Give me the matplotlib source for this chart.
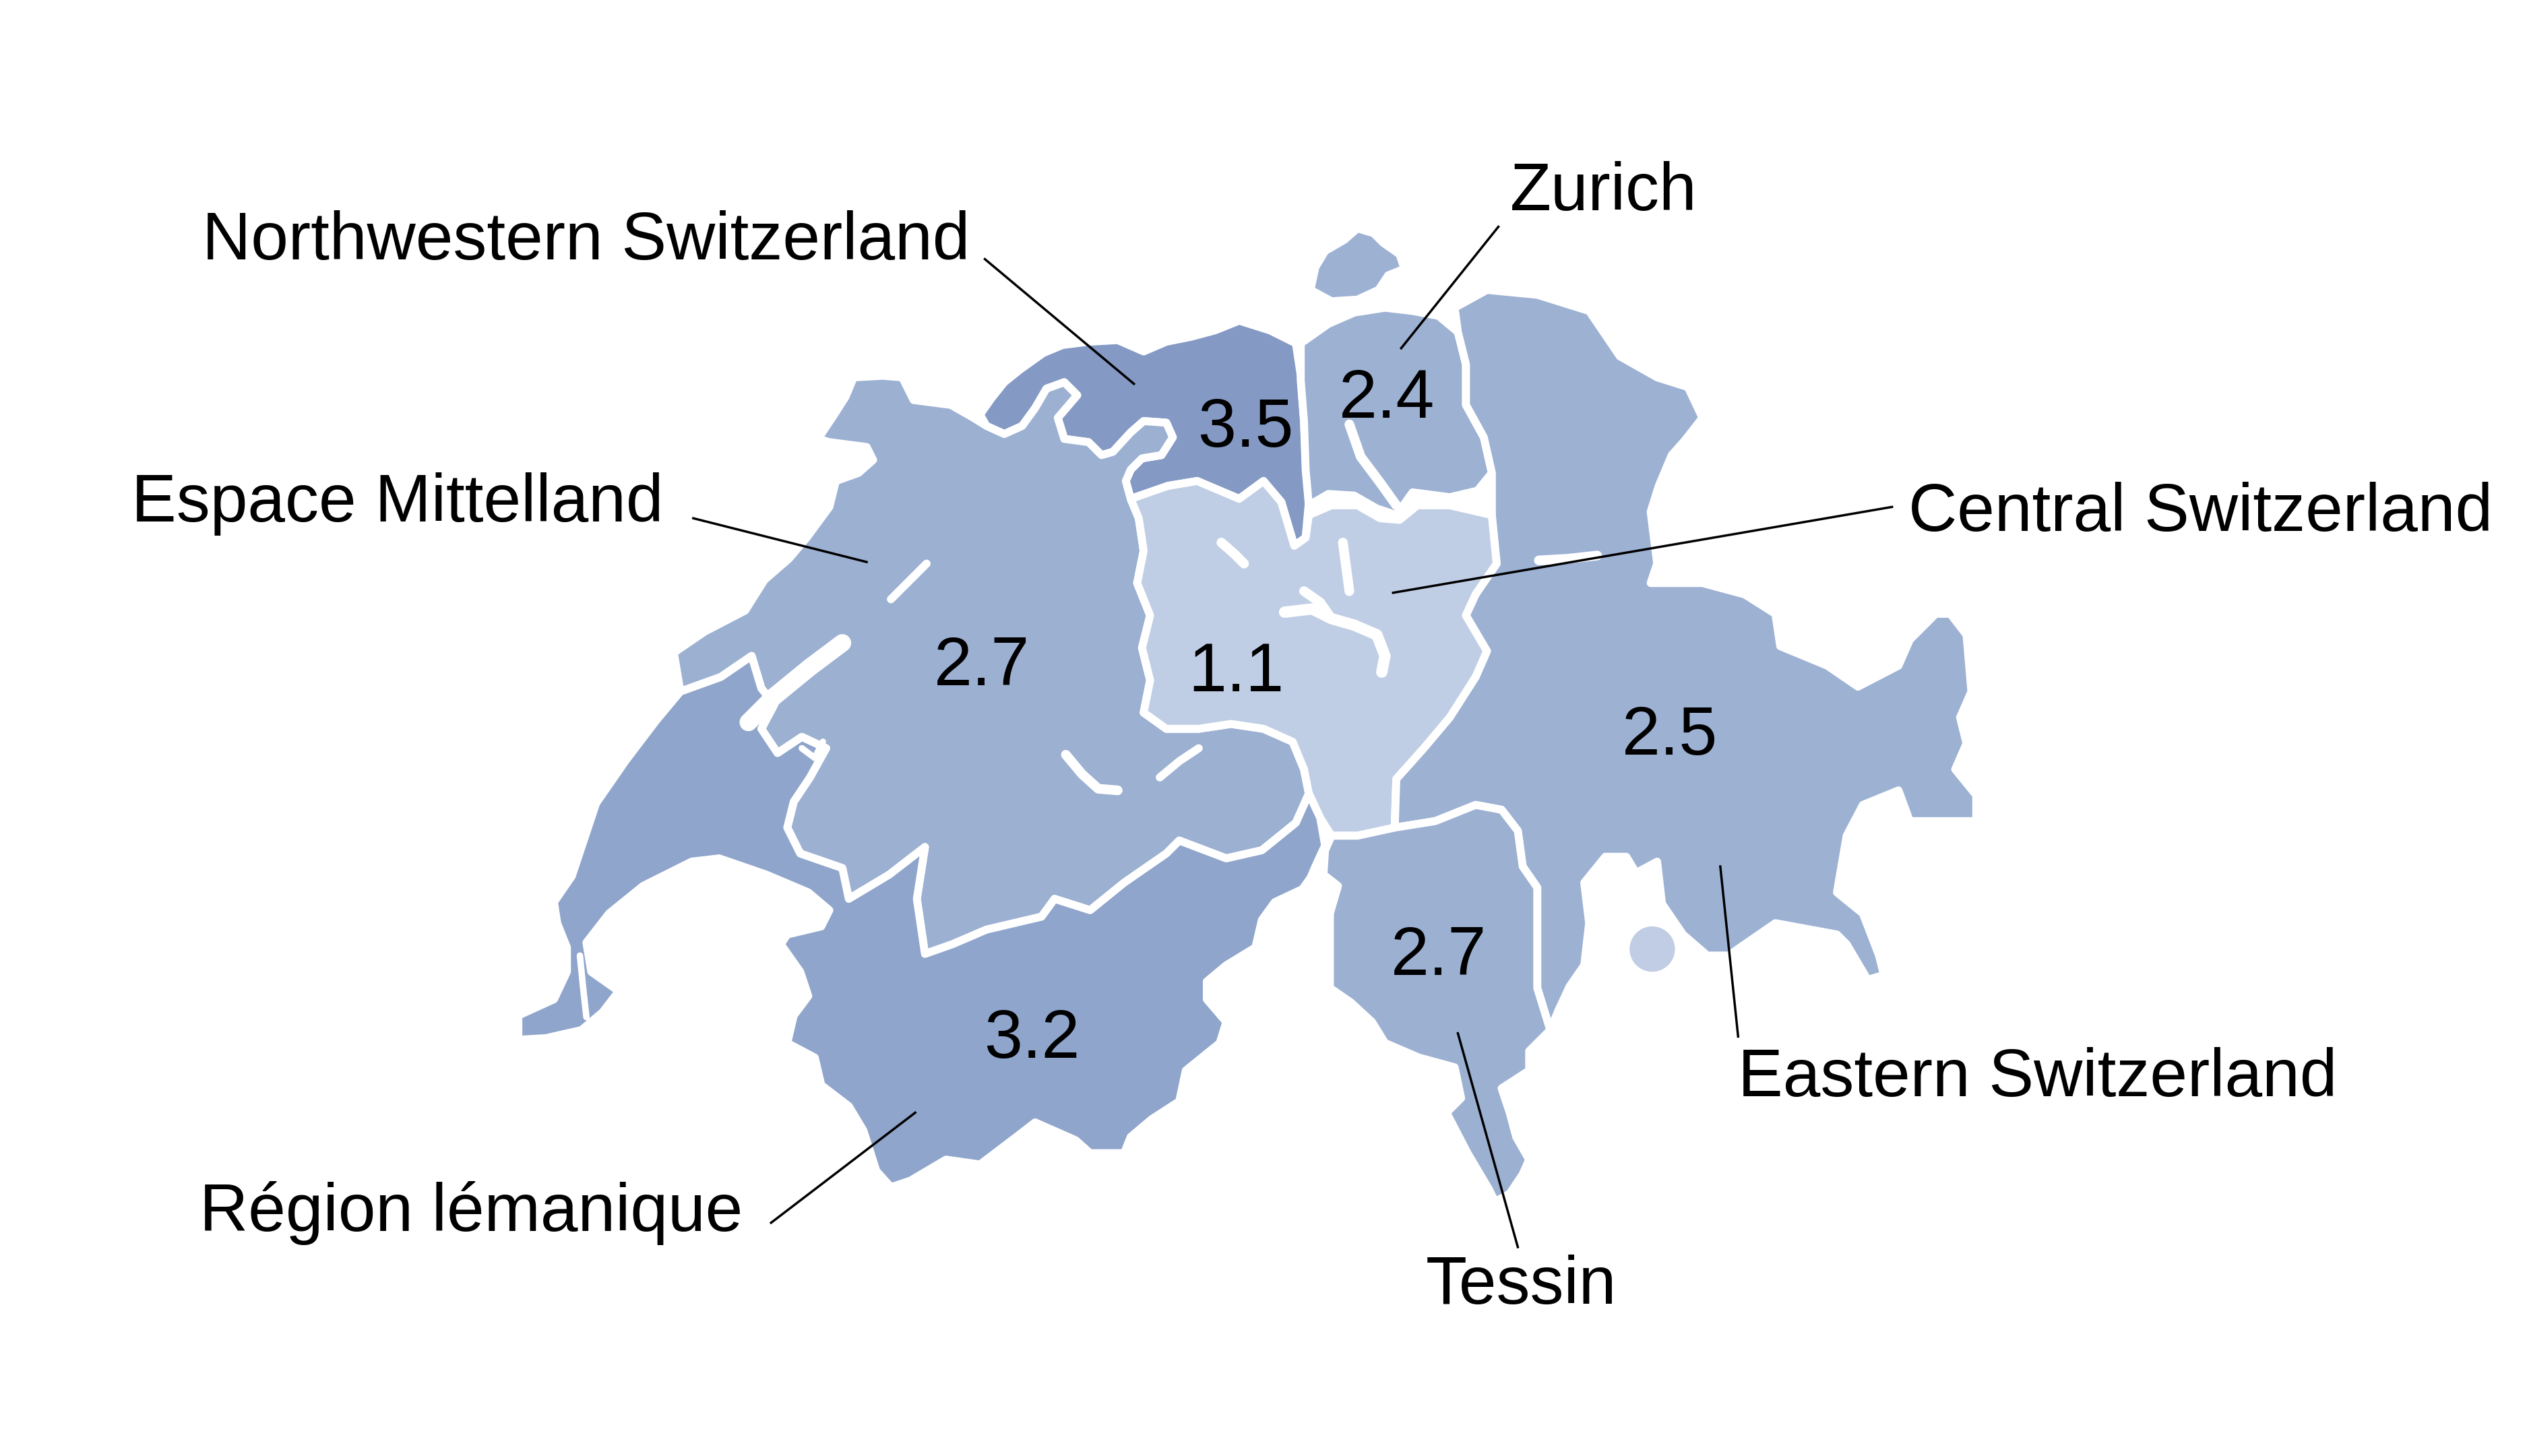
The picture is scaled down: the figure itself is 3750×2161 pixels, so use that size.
import matplotlib
matplotlib.use("Agg")
import matplotlib.pyplot as plt
from matplotlib.patches import Polygon, Circle

# ---------------- data ----------------
regions = ["Northwestern Switzerland", "Zurich", "Espace Mittelland",
           "Central Switzerland", "Eastern Switzerland", "Tessin", "Région lémanique"]
values = [3.5, 2.4, 2.7, 1.1, 2.5, 2.7, 3.2]

# ---------------- style ----------------
fill_colors = ["#8499C4", "#9DB1D3", "#9CB0D2", "#C0CEE5", "#9DB1D3", "#9CB0D2", "#8FA5CB"]
# label anchor (left x, baseline y), leader line (from, to), value position (center x, baseline y)
label_pos = [(125, 160), (932, 130), (81, 322), (1178, 328), (1073, 677), (880, 805), (123, 760)]
leader = [((608, 160), (700, 237)), ((925, 140), (865, 215)), ((428, 320), (535, 347)),
          ((1168, 313), (860, 366)), ((1062, 535), (1073, 640)), ((900, 638), (937, 770)),
          ((476, 755), (565, 687))]
value_pos = [(769, 276), (856, 258), (606, 423), (763, 427), (1031, 466), (888, 602), (637, 653)]

# ---------------- geometry (region outlines, image space) ----------------
shapes = {
    "Northwestern Switzerland": [
        (609, 263), (605, 256), (612, 246), (620, 236), (630, 228), (644, 218), (656, 213), (672, 211),
        (690, 210), (706, 217), (720, 211), (735, 208), (750, 204), (765, 198), (784, 204), (800, 212),
        (803, 232), (805, 260), (806, 284), (808, 310), (806, 332), (799, 337), (791, 310), (780, 297),
        (765, 308), (739, 297), (721, 300), (698, 308), (695, 297), (698, 290), (705, 283), (717, 281),
        (724, 270), (720, 261), (706, 260), (698, 267), (687, 279), (680, 281), (672, 273), (657, 271),
        (653, 258), (665, 244), (657, 236), (646, 240), (639, 252), (631, 263), (620, 268)],
    "Zurich": [
        (803, 212), (820, 200), (836, 193), (855, 190), (872, 192), (888, 195), (900, 205), (905, 225),
        (905, 250), (916, 270), (921, 292), (912, 303), (895, 307), (872, 304), (862, 318), (850, 314),
        (836, 306), (820, 305), (808, 312), (806, 290), (805, 260), (803, 235)],
    "Schaffhausen": [
        (809, 179), (812, 165), (818, 155), (830, 148), (838, 141), (848, 144), (854, 150), (864, 157),
        (867, 166), (857, 170), (851, 179), (838, 185), (822, 186)],
    "Espace Mittelland": [
        (505, 271), (515, 256), (522, 245), (527, 233), (545, 232), (557, 233), (564, 247), (587, 250),
        (601, 258), (609, 263), (620, 268), (631, 263), (639, 252), (646, 240), (657, 236), (665, 244),
        (653, 258), (657, 271), (672, 273), (680, 281), (687, 279), (698, 267), (706, 260), (720, 261),
        (724, 270), (717, 281), (705, 283), (698, 290), (695, 297), (698, 308), (703, 320), (706, 340),
        (702, 360), (710, 380), (705, 400), (710, 420), (706, 440), (720, 450), (740, 450), (760, 447),
        (780, 450), (798, 458), (805, 475), (808, 490), (800, 508), (779, 525), (757, 530), (728, 519),
        (720, 527), (694, 545), (673, 562), (651, 555), (643, 566), (609, 574), (588, 583), (571, 589),
        (566, 555), (571, 523), (549, 540), (524, 555), (520, 536), (494, 527), (486, 511), (490, 495),
        (500, 480), (510, 462), (495, 455), (480, 465), (470, 450), (478, 435), (470, 425), (464, 405),
        (445, 418), (420, 427), (416, 403), (435, 390), (460, 377), (472, 358), (487, 345), (498, 332),
        (512, 313), (516, 297), (530, 292), (539, 284), (535, 276), (512, 273)],
    "Central Switzerland": [
        (698, 308), (721, 300), (739, 297), (765, 308), (780, 297), (791, 310), (799, 337), (806, 332),
        (808, 318), (822, 312), (838, 312), (852, 320), (864, 321), (875, 312), (895, 312), (921, 318),
        (924, 348), (911, 367), (905, 380), (918, 402), (911, 418), (895, 443), (879, 462), (862, 481),
        (861, 511), (838, 516), (822, 516), (815, 505), (808, 490), (805, 475), (798, 458), (780, 450),
        (760, 447), (740, 450), (720, 450), (706, 440), (710, 420), (705, 400), (710, 380), (702, 360),
        (706, 340), (703, 320)],
    "Eastern Switzerland": [
        (898, 190), (918, 179), (949, 182), (981, 192), (1000, 220), (1023, 233), (1042, 239), (1051, 258),
        (1040, 272), (1032, 281), (1024, 300), (1019, 316), (1023, 348), (1019, 360), (1051, 360),
        (1077, 367), (1096, 379), (1099, 399), (1128, 411), (1147, 424), (1172, 411), (1179, 395),
        (1195, 379), (1204, 379), (1214, 392), (1217, 427), (1210, 443), (1214, 459), (1207, 475),
        (1220, 491), (1220, 507), (1179, 507), (1172, 488), (1150, 497), (1140, 516), (1134, 551),
        (1150, 564), (1160, 590), (1163, 602), (1153, 605), (1140, 583), (1134, 577), (1096, 570),
        (1067, 590), (1054, 590), (1039, 577), (1026, 558), (1023, 532), (1010, 539), (1004, 529),
        (991, 529), (978, 545), (981, 570), (978, 596), (969, 609), (962, 624), (957, 636), (949, 610),
        (949, 570), (949, 548), (940, 535), (937, 513), (927, 500), (911, 497), (886, 507), (861, 511),
        (862, 481), (879, 462), (895, 443), (911, 418), (918, 402), (905, 380), (911, 367), (924, 348),
        (921, 318), (921, 292), (916, 270), (905, 250), (905, 225), (900, 205)],
    "Tessin": [
        (822, 516), (838, 516), (861, 511), (886, 507), (911, 497), (927, 500), (937, 513), (940, 535),
        (949, 548), (949, 570), (949, 610), (957, 636), (944, 649), (944, 661), (927, 672), (932, 687),
        (936, 702), (944, 716), (940, 725), (932, 737), (923, 742), (919, 734), (906, 712), (893, 687),
        (902, 678), (898, 659), (876, 653), (855, 644), (847, 631), (834, 619), (821, 610), (821, 564),
        (826, 547), (817, 540), (818, 525)],
    "Région lémanique": [
        (420, 427), (445, 418), (464, 405), (470, 425), (478, 435), (470, 450), (480, 465), (495, 455),
        (510, 462), (500, 480), (490, 495), (486, 511), (494, 527), (520, 536), (524, 555), (549, 540),
        (571, 523), (566, 555), (571, 589), (588, 583), (609, 574), (643, 566), (651, 555), (673, 562),
        (694, 545), (720, 527), (728, 519), (757, 530), (779, 525), (800, 508), (808, 490), (815, 505),
        (818, 522), (812, 535), (809, 542), (804, 549), (787, 557), (779, 568), (775, 585), (757, 596),
        (745, 606), (745, 617), (757, 631), (753, 644), (732, 661), (728, 680), (711, 691), (698, 702),
        (694, 712), (673, 712), (664, 704), (639, 693), (630, 700), (605, 719), (584, 716), (562, 729),
        (550, 733), (541, 723), (533, 698), (524, 683), (507, 670), (503, 653), (486, 644), (490, 627),
        (499, 615), (494, 600), (482, 583), (486, 577), (507, 572), (512, 562), (499, 551), (473, 540),
        (444, 530), (427, 532), (397, 547), (376, 564), (362, 582), (365, 600), (382, 612), (372, 625),
        (359, 636), (337, 641), (320, 642), (320, 627), (342, 617), (350, 600), (350, 585), (344, 570),
        (342, 557), (353, 541), (368, 496), (386, 470), (405, 445)],
}
region_shape = {"Northwestern Switzerland": ["Northwestern Switzerland"],
                "Zurich": ["Zurich", "Schaffhausen"],
                "Espace Mittelland": ["Espace Mittelland"],
                "Central Switzerland": ["Central Switzerland"],
                "Eastern Switzerland": ["Eastern Switzerland"],
                "Tessin": ["Tessin"],
                "Région lémanique": ["Région lémanique"]}

lakes = [  # white lake strokes (polylines), width in image px
    ([(462, 446), (478, 430), (500, 412), (520, 397)], 11),           # Neuchâtel
    ([(550, 370), (562, 358), (572, 348)], 5),                          # Biel
    ([(495, 462), (503, 468), (508, 458)], 4),                          # Murten
    ([(658, 466), (668, 478), (678, 487), (690, 488)], 6),              # Thun
    ([(716, 480), (728, 470), (740, 462)], 5),                          # Brienz
    ([(754, 335), (762, 342), (768, 348)], 6),                          # Sempach
    ([(829, 335), (831, 350), (833, 365)], 6),                          # Zug
    ([(793, 378), (810, 376), (822, 382), (836, 386), (850, 392),
      (855, 405), (853, 415)], 7),                                     # Lucerne
    ([(805, 365), (815, 372), (822, 382)], 6),
    ([(833, 262), (840, 282), (852, 298), (862, 312)], 6),              # Zurich
    ([(950, 346), (968, 345), (986, 343)], 6),                          # Walensee
    ([(358, 590), (360, 610), (362, 628)], 4),                          # Geneva
]

# ---------------- figure ----------------
W, H = 1560, 899
fig = plt.figure(figsize=(15.0, 8.644), dpi=250)
ax = fig.add_axes([0, 0, 1, 1])
ax.set_xlim(0, W)
ax.set_ylim(H, 0)
ax.axis("off")

FONT = ["Liberation Sans", "DejaVu Sans"]

for name, color in zip(regions, fill_colors):
    for key in region_shape[name]:
        ax.add_patch(Polygon(shapes[key], closed=True, facecolor=color, edgecolor="white",
                             linewidth=3.4, joinstyle="round", zorder=2))

for pts, w in lakes:
    xs, ys = zip(*pts)
    ax.plot(xs, ys, color="white", linewidth=w * 0.69, solid_capstyle="round",
            solid_joinstyle="round", zorder=3)

ax.add_patch(Circle((1020, 586), 14, facecolor="#C0CDE4", edgecolor="none", zorder=3))

for name, val, (lx, ly), ((x0, y0), (x1, y1)), (vx, vy) in zip(regions, values, label_pos,
                                                               leader, value_pos):
    ax.text(lx, ly, name, fontsize=28.8, family=FONT, ha="left", va="baseline",
            color="black", zorder=5)
    ax.plot([x0, x1], [y0, y1], color="black", linewidth=1.0, zorder=4)
    ax.text(vx, vy, f"{val:.1f}", fontsize=29.5, family=FONT, ha="center", va="baseline",
            color="black", zorder=5)

fig.savefig("out.png", dpi=250, facecolor="white")
